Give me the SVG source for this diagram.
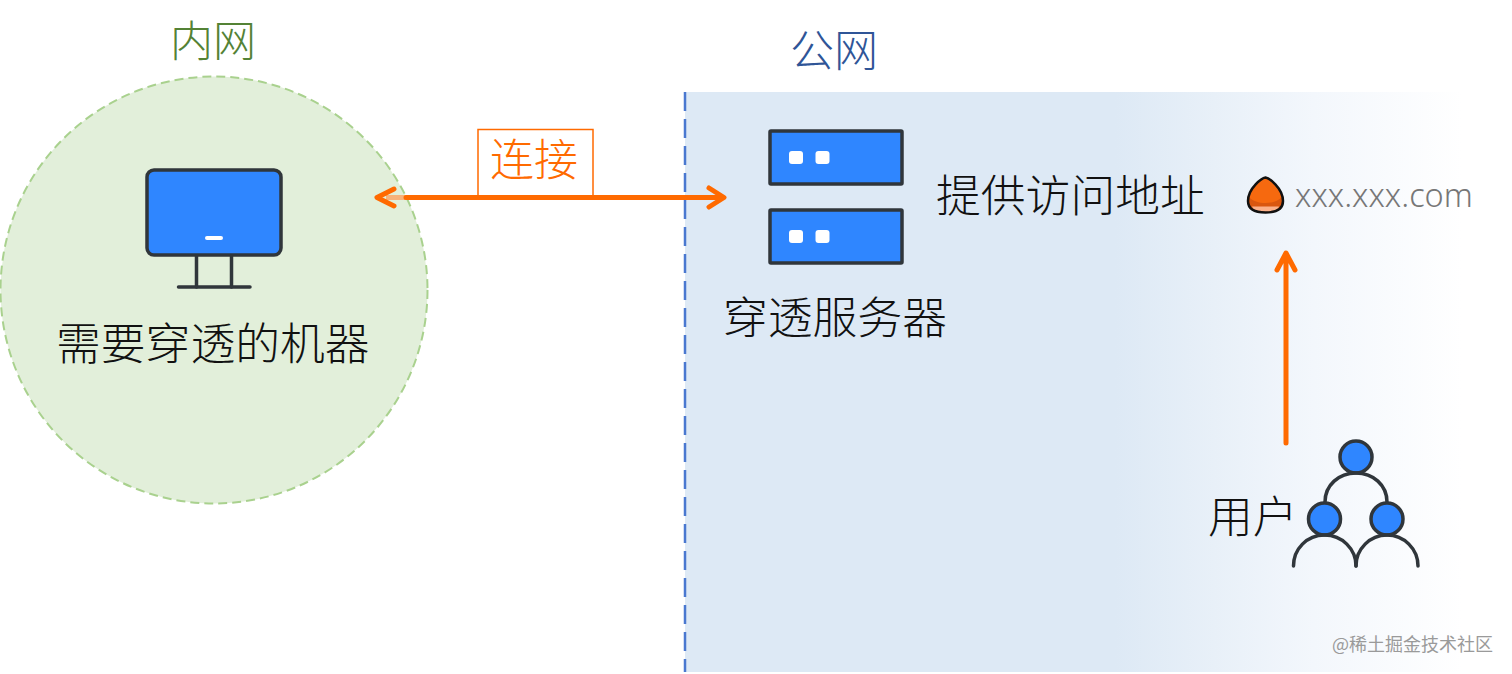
<svg xmlns="http://www.w3.org/2000/svg" width="1512" height="674" viewBox="0 0 1512 674">
<style>
text{font-family:"Noto Sans CJK SC","Noto Sans",sans-serif;font-weight:300}
.lbl{font-size:44.800px;fill:#111}
.ic{stroke:#30363b;stroke-width:3.500;fill:#2f86ff}
.ln{stroke:#30363b;stroke-width:3.500;fill:none;stroke-linecap:round}
.dot{fill:#fff}
.arr{stroke:#ff6a00;stroke-width:5;fill:none;stroke-linecap:round;stroke-linejoin:round}
</style>
<defs>
<linearGradient id="pub" x1="0" x2="1" y1="0" y2="0">
<stop offset="0" stop-color="#dde9f5"/>
<stop offset="0.52" stop-color="#dde9f5"/>
<stop offset="0.64" stop-color="#e8f0f8"/>
<stop offset="0.76" stop-color="#f3f7fc"/>
<stop offset="0.94" stop-color="#ffffff"/>
</linearGradient>
</defs>
<rect width="1512" height="674" fill="#fff"/>
<g id="public-zone">
<rect x="685" y="92" width="827" height="580" fill="url(#pub)"/>
<line x1="685" y1="92" x2="685" y2="672" stroke="#4a78d0" stroke-width="2.500" stroke-dasharray="19 8"/>
<text x="790" y="67" font-size="44" fill="#2f5597">公网</text>
</g>
<g id="private-zone">
<circle cx="214" cy="290" r="213.500" fill="#e2efda" stroke="#a9d18e" stroke-width="2" stroke-dasharray="9 5"/>
<text x="170" y="57" font-size="43" fill="#548235">内网</text>
</g>
<g id="machine">
<rect x="147" y="170" width="134" height="85" rx="7" class="ic"/>
<line x1="196.500" y1="256" x2="196.500" y2="287" class="ln"/>
<line x1="231.500" y1="256" x2="231.500" y2="287" class="ln"/>
<line x1="178.500" y1="287" x2="250" y2="287" class="ln"/>
<rect x="205" y="236" width="18" height="4" rx="2" class="dot"/>
<text x="56" y="360" class="lbl">需要穿透的机器</text>
</g>
<g id="server">
<rect x="770" y="131" width="132" height="53" rx="1" class="ic"/>
<rect x="770" y="210" width="132" height="53" rx="1" class="ic"/>
<rect x="789" y="151" width="14" height="13" rx="3" class="dot"/>
<rect x="815.500" y="151" width="14" height="13" rx="3" class="dot"/>
<rect x="789" y="230" width="14" height="13" rx="3" class="dot"/>
<rect x="815.500" y="230" width="14" height="13" rx="3" class="dot"/>
<text x="723" y="334" class="lbl">穿透服务器</text>
</g>
<g id="provide">
<text x="936" y="212" class="lbl">提供访问地址</text>
</g>
<g id="domain">
<path d="M1265.500 177.500C1262 178 1248 188 1248 201C1248 209 1254 212.500 1265.500 212.500C1277 212.500 1283 209 1283 201C1283 188 1269 178 1265.500 177.500Z" fill="#f6690f"/>
<path d="M1249 197C1256 205 1275 205 1282 197C1283 204 1282 208 1276 208H1255C1249 208 1248 204 1249 197Z" fill="#d9570f"/>
<path d="M1252 206.500H1279C1277 211 1273 212 1265.500 212C1258 212 1254 211 1252 206.500Z" fill="#fbb089"/>
<path d="M1265.500 177.500C1262 178 1248 188 1248 201C1248 209 1254 212.500 1265.500 212.500C1277 212.500 1283 209 1283 201C1283 188 1269 178 1265.500 177.500Z" fill="none" stroke="#111" stroke-width="2.500"/>
<text x="1295" y="207" font-size="32.500" fill="#777" style="font-family:'Noto Sans',sans-serif;font-weight:300">xxx.xxx.com</text>
</g>
<g id="users">
<circle cx="1356" cy="457" r="16" class="ic"/>
<circle cx="1324.500" cy="519" r="16" class="ic"/>
<circle cx="1387" cy="519" r="16" class="ic"/>
<path d="M1325 502C1325 485 1339 473 1356 473C1373 473 1387 485 1387 502" class="ln"/>
<path d="M1293.500 566C1293.500 549 1307 535 1324.500 535C1342 535 1356 549 1356 566" class="ln"/>
<path d="M1356 566C1356 549 1370 535 1387 535C1404 535 1418 549 1418 566" class="ln"/>
<text x="1208" y="533" class="lbl">用户</text>
</g>
<g id="connect-label">
<rect x="478" y="129.500" width="115" height="68" fill="#fff" stroke="#ff6a00" stroke-width="1.500"/>
<text x="490" y="176" font-size="44" fill="#ff6a00">连接</text>
</g>
<g id="connectors">
<path d="M386 197.500H406" stroke="#f7b27a" stroke-width="5" fill="none"/>
<path class="arr" d="M406 197.500H723M394 189L377 197.500L394 206M709 188L724 197.500L709 207"/>
<path class="arr" d="M1286 443V254M1277 270L1286 253L1295 270"/>
</g>
<text x="1332" y="651" font-size="18" fill="#9a9a9a" style="font-weight:400">@稀土掘金技术社区</text>
</svg>
